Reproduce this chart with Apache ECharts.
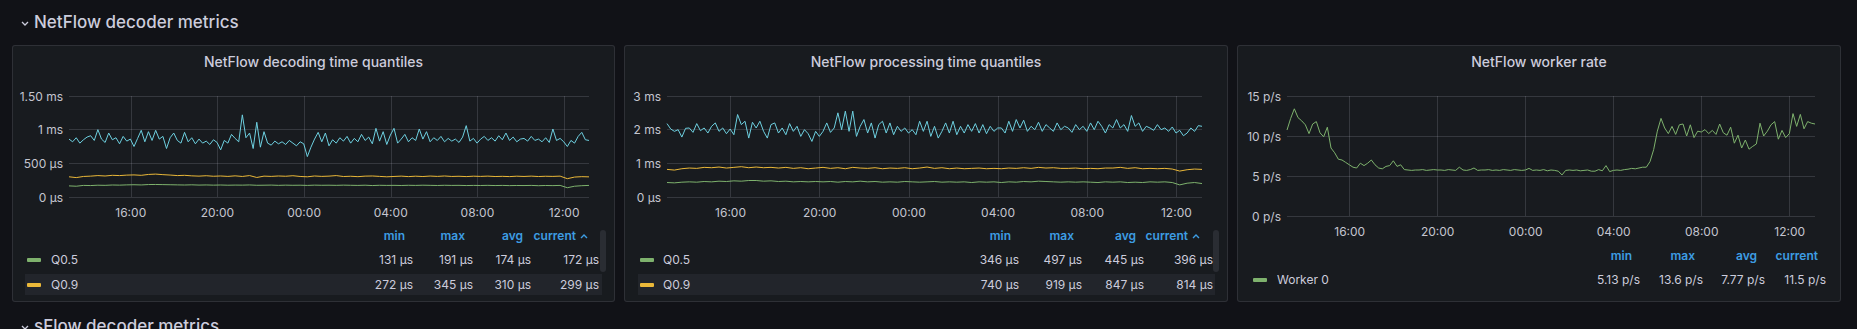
<!DOCTYPE html>
<html><head><meta charset="utf-8">
<script src="https://cdn.jsdelivr.net/npm/echarts@6/dist/echarts.min.js"></script>
<style>
html,body{margin:0;padding:0;background:#111217;width:1857px;height:329px;overflow:hidden;font-family:Inter,"Noto Sans",sans-serif;color:#ccccdc;}
.rowh{position:absolute;left:34px;font-size:17px;font-weight:500;line-height:20px;color:#ccccdc;white-space:nowrap;}
.chev{position:absolute;left:21px;}
.panel{position:absolute;top:45px;height:257px;background:#181b1f;border:1px solid rgba(204,204,220,0.12);border-radius:3px;box-sizing:border-box;}
.title{position:absolute;left:0;right:0;top:8px;text-align:center;font-size:14px;font-weight:500;line-height:16px;color:#ccccdc;}
.chart{position:absolute;top:0;height:257px;}
.lg{position:absolute;font-size:12px;line-height:14px;white-space:nowrap;color:#ccccdc;}
.hd{color:#3d9de3;font-weight:600;}
.band{position:absolute;background:#22252b;}
.sw{position:absolute;width:14px;height:4px;border-radius:1px;}
.thumb{position:absolute;width:6px;border-radius:3px;background:#2a2d33;}
</style></head>
<body>
<svg class="chev" style="top:21px" width="8" height="6" viewBox="0 0 8 6"><polyline points="1,1 4,4 7,1" fill="none" stroke="#ccccdc" stroke-width="1.3"/></svg>
<div class="rowh" style="top:12px">NetFlow decoder metrics</div>
<svg class="chev" style="top:325px" width="8" height="6" viewBox="0 0 8 6"><polyline points="1,1 4,4 7,1" fill="none" stroke="#ccccdc" stroke-width="1.3"/></svg>
<div class="rowh" style="top:316px">sFlow decoder metrics</div>

<div class="panel" style="left:12px;width:603px"><div class="title">NetFlow decoding time quantiles</div></div>
<div class="panel" style="left:624px;width:604px"><div class="title">NetFlow processing time quantiles</div></div>
<div class="panel" style="left:1237px;width:604px"><div class="title">NetFlow worker rate</div></div>

<div class="band" style="left:25px;top:274px;width:577px;height:21px"></div>
<div class="band" style="left:638px;top:274px;width:577px;height:21px"></div>
<div class="thumb" style="left:600px;top:230px;height:42px"></div>
<div class="thumb" style="left:1213px;top:230px;height:42px"></div>

<div id="c1" class="chart" style="left:12px;top:45px;width:603px"></div>
<div id="c2" class="chart" style="left:624px;top:45px;width:604px"></div>
<div id="c3" class="chart" style="left:1237px;top:45px;width:604px"></div>

<script>
// ---------- data ----------
const X_START = 13.15;          // 13:09 (hours)
const X_END = 37.15;            // 13:09 next day
const X_TICKS = [16, 20, 24, 28, 32, 36];
const STEP_FINE = 1/6;          // 10 min samples
const STEP_COARSE = 1/3;        // 20 min samples

const P1_Y_TICKS = [0, 0.5, 1, 1.5];
const P1_Y_LABELS = ['0 µs', '500 µs', '1 ms', '1.50 ms'];
const P2_Y_TICKS = [0, 1, 2, 3];
const P2_Y_LABELS = ['0 µs', '1 ms', '2 ms', '3 ms'];
const P3_Y_TICKS = [0, 5, 10, 15];
const P3_Y_LABELS = ['0 p/s', '5 p/s', '10 p/s', '15 p/s'];

// NetFlow decoding time (ms)
const P1_Q99 = [
 0.86,0.82,0.88,0.80,0.85,0.89, 0.91,0.84,1.00,0.86,0.81,0.95, 0.85,0.88,0.79,0.90,0.83,0.86,
 0.75,0.87,0.99,0.82,0.97,0.84, 0.99,0.86,0.90,0.72,0.88,0.95, 0.84,0.80,0.96,0.82,0.88,0.79,
 0.86,0.80,0.83,0.78,0.85,0.81, 0.70,0.84,0.80,0.93,0.87,0.82, 1.22,0.88,0.95,0.72,1.11,0.74,
 0.97,0.80,0.77,0.83,0.79,0.82, 0.78,0.84,0.80,0.76,0.82,0.79, 0.60,0.74,0.86,0.96,0.82,0.95,
 0.76,0.85,0.80,0.88,0.83,0.90, 0.80,0.87,0.82,0.93,0.84,0.89, 0.79,1.02,0.83,0.97,0.78,0.92,
 1.02,0.80,0.86,0.93,0.82,0.88, 0.84,1.01,0.86,0.97,0.82,0.88, 0.84,0.90,0.82,0.87,0.83,0.86,
 0.81,0.89,1.06,0.83,0.87,0.80, 0.86,0.90,0.84,0.88,0.83,0.91, 0.85,0.95,0.84,0.89,0.82,0.86,
 0.87,0.83,0.90,0.84,0.86,0.82, 0.88,0.81,1.01,0.84,0.87,0.82, 0.75,0.84,0.80,0.90,0.96,0.85,
 0.84];
const P1_Q50 = [
 0.165,0.160,0.172, 0.170,0.175,0.173, 0.178,0.176,0.180, 0.182,0.179,0.185, 0.186,0.184,0.182,
 0.180,0.178,0.181, 0.177,0.179,0.176, 0.178,0.175,0.177, 0.176,0.179,0.174, 0.175,0.177,0.173,
 0.176,0.174,0.175, 0.172,0.176,0.174, 0.175,0.173,0.176, 0.174,0.172,0.175, 0.170,0.174,0.172,
 0.173,0.171,0.174, 0.172,0.175,0.173, 0.171,0.174,0.172, 0.173,0.170,0.172, 0.171,0.173,0.170,
 0.172,0.169,0.171, 0.170,0.172,0.168, 0.171,0.169,0.172, 0.138,0.160,0.168, 0.172];
const P1_Q90 = [
 0.300,0.288,0.305, 0.310,0.318,0.312, 0.322,0.318,0.325, 0.328,0.322,0.335, 0.340,0.332,0.326,
 0.318,0.322,0.314, 0.310,0.316,0.308, 0.312,0.306,0.314, 0.305,0.318,0.290, 0.310,0.306,0.312,
 0.308,0.316,0.305, 0.300,0.312,0.306, 0.310,0.318,0.304, 0.308,0.302,0.310, 0.312,0.306,0.300,
 0.305,0.310,0.303, 0.309,0.304,0.311, 0.306,0.312,0.305, 0.308,0.303,0.309, 0.306,0.310,0.304,
 0.307,0.303,0.309, 0.305,0.310,0.304, 0.308,0.306,0.310, 0.272,0.296,0.302, 0.299];

// NetFlow processing time (ms)
const P2_Q99 = [
 2.18,2.02,1.95,2.00,1.78,2.04, 2.05,1.92,2.18,1.97,2.05,1.90, 2.10,2.20,1.95,2.05,1.88,2.02,
 1.85,2.45,2.15,2.25,1.75,2.22, 2.05,2.25,1.95,1.75,2.15,2.20, 1.90,2.05,1.85,2.18,1.95,2.10,
 1.80,2.00,1.88,1.65,1.95,1.80, 1.95,2.20,1.92,2.05,2.50,2.00, 2.55,1.95,2.55,1.80,2.10,2.30,
 1.90,2.20,1.75,2.15,2.25,1.90, 2.20,1.85,2.10,1.95,2.05,1.90, 2.00,1.85,2.25,1.95,2.25,1.80,
 2.10,1.75,1.95,2.20,1.90,2.25, 1.85,2.10,1.90,2.15,1.95,2.18, 1.90,2.15,1.88,2.10,1.95,2.05,
 2.05,1.90,2.25,1.95,2.30,2.05, 2.28,1.95,2.10,2.00,2.22,1.95, 2.15,2.05,1.95,2.20,2.00,2.10,
 2.05,1.92,2.15,2.00,2.10,1.95, 2.20,2.00,2.25,2.10,1.90,2.15, 2.05,2.30,2.05,2.15,1.95,2.42,
 2.10,2.20,1.95,2.10,2.05,1.98, 2.15,2.00,2.05,1.95,2.08,1.90, 1.98,1.82,1.90,2.05,1.95,2.12,
 2.10];
const P2_Q50 = [
 0.43,0.42,0.44, 0.45,0.44,0.46, 0.45,0.47,0.46, 0.48,0.47,0.49, 0.49,0.47,0.48, 0.46,0.47,0.45,
 0.46,0.45,0.46, 0.45,0.46,0.44, 0.46,0.45,0.47, 0.45,0.46,0.44, 0.45,0.44,0.46, 0.45,0.44,0.45,
 0.46,0.44,0.45, 0.44,0.45,0.43, 0.45,0.44,0.45, 0.43,0.45,0.44, 0.46,0.45,0.47, 0.46,0.45,0.44,
 0.45,0.44,0.45, 0.44,0.43,0.45, 0.44,0.45,0.43, 0.44,0.43,0.45, 0.44,0.45,0.43, 0.36,0.41,0.43,
 0.40];
const P2_Q90 = [
 0.82,0.80,0.84, 0.86,0.85,0.88, 0.87,0.89,0.86, 0.88,0.90,0.87, 0.89,0.87,0.88, 0.86,0.88,0.85,
 0.87,0.84,0.86, 0.88,0.85,0.87, 0.84,0.88,0.86, 0.85,0.87,0.84, 0.86,0.85,0.87, 0.84,0.86,0.89,
 0.85,0.87,0.84, 0.86,0.84,0.85, 0.86,0.84,0.85, 0.84,0.86,0.85, 0.87,0.85,0.88, 0.86,0.87,0.85,
 0.85,0.86,0.84, 0.85,0.84,0.86, 0.86,0.88,0.85, 0.87,0.84,0.85, 0.84,0.85,0.83, 0.77,0.81,0.83,
 0.82];

// NetFlow worker rate (p/s)
const P3_WORKER0 = [
 10.75,12.2,13.4,12.3,11.9,11.4, 10.3,11.5,11.8,10.4,9.9,11.1, 8.5,7.9,7.1,7.0,6.7,6.4,
 6.1,6.0,6.6,6.3,6.6,7.0, 6.4,6.0,5.9,6.2,6.3,6.9, 6.2,6.4,5.8,5.75,5.7,5.75,
 5.75,5.8,5.7,5.75,5.8,5.75, 5.75,5.7,5.8,5.75,5.7,6.1, 5.75,5.7,5.8,6.0,5.7,5.75,
 5.75,5.8,5.7,5.75,5.7,5.8, 5.75,5.7,5.8,5.75,5.7,5.75, 5.95,5.7,5.75,5.7,5.8,5.65,
 5.75,5.7,5.6,5.13,5.7,5.75, 5.7,5.75,5.65,5.7,5.75,5.6, 5.6,5.8,5.65,6.3,5.55,5.7,
 5.75,5.7,5.8,5.85,5.95,5.9, 6.0,6.1,6.1,6.8,8.3,10.6, 12.2,11.0,10.3,11.2,10.2,11.4,
 11.5,10.0,11.4,9.8,10.6,10.5, 10.8,10.3,10.7,10.2,11.5,10.4, 10.1,11.1,9.1,10.1,8.5,9.5,
 8.35,8.7,9.0,11.6,10.0,10.6, 11.4,11.8,9.6,10.7,9.8,10.3, 12.8,11.2,12.7,10.9,11.8,11.6,
 11.5];

// legends
const LEGEND_HEADERS = ['min', 'max', 'avg', 'current'];
const P1_LEGEND_NAMES = ['Q0.5', 'Q0.9'];
const P1_LEGEND_VALUES = [['131 µs','191 µs','174 µs','172 µs'], ['272 µs','345 µs','310 µs','299 µs']];
const P2_LEGEND_NAMES = ['Q0.5', 'Q0.9'];
const P2_LEGEND_VALUES = [['346 µs','497 µs','445 µs','396 µs'], ['740 µs','919 µs','847 µs','814 µs']];
const P3_LEGEND_NAMES = ['Worker 0'];
const P3_LEGEND_VALUES = [['5.13 p/s','13.6 p/s','7.77 p/s','11.5 p/s']];

const GREEN = '#7EB26D', YELLOW = '#EAB839', CYAN = '#6ED0E0';
const GRIDC = 'rgba(204,204,220,0.17)';
const TICKC = '#c4c5cf';

// ---------- charts ----------
function pts(vals, step) { return vals.map((v, i) => [X_START + i * step, v]); }
function pad(n) { return (n < 10 ? '0' : '') + n; }

function option(grid, yTicks, yLabels, series) {
  return {
    animation: false,
    grid: Object.assign({ containLabel: false }, grid),
    xAxis: {
      type: 'value', min: X_START, max: X_END,
      axisLine: { show: false },
      axisTick: { show: false, customValues: X_TICKS },
      axisLabel: { customValues: X_TICKS, color: TICKC, fontSize: 12, fontFamily: 'Inter', margin: 9,
                   formatter: v => pad(Math.round(v) % 24) + ':00' },
      splitLine: { show: true, lineStyle: { color: GRIDC, width: 1 } }
    },
    yAxis: {
      type: 'value', min: yTicks[0], max: yTicks[yTicks.length - 1],
      interval: yTicks[1] - yTicks[0],
      axisLine: { show: false }, axisTick: { show: false },
      axisLabel: { color: TICKC, fontSize: 12, fontFamily: 'Inter', margin: 6,
                   formatter: v => { const i = yTicks.findIndex(t => Math.abs(t - v) < 1e-9); return i >= 0 ? yLabels[i] : ''; } },
      splitLine: { show: true, lineStyle: { color: GRIDC, width: 1 } }
    },
    series: series.map(s => ({
      type: 'line', name: s.name, data: s.data, showSymbol: false, symbol: 'none',
      lineStyle: { color: s.color, width: 1 }, itemStyle: { color: s.color }, z: s.z || 2
    }))
  };
}

const c1 = echarts.init(document.getElementById('c1'), null, { renderer: 'svg' });
c1.setOption(option({ left: 57, right: 26, top: 51, bottom: 105 }, P1_Y_TICKS, P1_Y_LABELS, [
  { name: 'Q0.5', data: pts(P1_Q50, STEP_COARSE), color: GREEN },
  { name: 'Q0.9', data: pts(P1_Q90, STEP_COARSE), color: YELLOW },
  { name: 'Q0.99', data: pts(P1_Q99, STEP_FINE), color: CYAN }
]));
const c2 = echarts.init(document.getElementById('c2'), null, { renderer: 'svg' });
c2.setOption(option({ left: 43, right: 26, top: 51, bottom: 105 }, P2_Y_TICKS, P2_Y_LABELS, [
  { name: 'Q0.5', data: pts(P2_Q50, STEP_COARSE), color: GREEN },
  { name: 'Q0.9', data: pts(P2_Q90, STEP_COARSE), color: YELLOW },
  { name: 'Q0.99', data: pts(P2_Q99, STEP_FINE), color: CYAN }
]));
const c3 = echarts.init(document.getElementById('c3'), null, { renderer: 'svg' });
c3.setOption(option({ left: 50, right: 26, top: 51, bottom: 86 }, P3_Y_TICKS, P3_Y_LABELS, [
  { name: 'Worker 0', data: pts(P3_WORKER0, STEP_FINE), color: GREEN }
]));

// ---------- legends ----------
const W = 1857;
function put(text, x, yc, align, cls, extra) {
  const d = document.createElement('div');
  d.className = 'lg' + (cls ? ' ' + cls : '');
  d.textContent = text;
  d.style.top = (yc - 7) + 'px';
  if (align === 'right') d.style.right = (W - x) + 'px'; else d.style.left = x + 'px';
  if (extra) d.appendChild(extra);
  document.body.appendChild(d);
  return d;
}
function arrowUp() {
  const s = document.createElementNS('http://www.w3.org/2000/svg', 'svg');
  s.setAttribute('width', '10'); s.setAttribute('height', '8');
  s.setAttribute('viewBox', '0 0 10 8');
  s.style.marginLeft = '3px'; s.style.verticalAlign = '0px';
  s.innerHTML = '<polyline points="2,6 5,3 8,6" fill="none" stroke="#3d9de3" stroke-width="1.4"/>';
  return s;
}
function legend(cfg) {
  cfg.headerRights.forEach((x, i) => {
    put(LEGEND_HEADERS[i], x, cfg.headerY, 'right', 'hd', (cfg.arrow && i === 3) ? arrowUp() : null);
  });
  cfg.names.forEach((n, r) => {
    const y = cfg.rowYs[r];
    const sw = document.createElement('div');
    sw.className = 'sw'; sw.style.left = cfg.swX + 'px'; sw.style.top = (y - 2) + 'px';
    sw.style.background = cfg.colors[r];
    document.body.appendChild(sw);
    put(n, cfg.labelX, y, 'left');
    cfg.values[r].forEach((v, k) => put(v, cfg.valueRights[k], y, 'right'));
  });
}
legend({ names: P1_LEGEND_NAMES, values: P1_LEGEND_VALUES, colors: [GREEN, YELLOW], arrow: true,
  headerY: 236, rowYs: [260, 285], swX: 27, labelX: 51,
  headerRights: [405, 465, 523, 589], valueRights: [413, 473, 531, 599] });
legend({ names: P2_LEGEND_NAMES, values: P2_LEGEND_VALUES, colors: [GREEN, YELLOW], arrow: true,
  headerY: 236, rowYs: [260, 285], swX: 640, labelX: 663,
  headerRights: [1011, 1074, 1136, 1201], valueRights: [1019, 1082, 1144, 1213] });
legend({ names: P3_LEGEND_NAMES, values: P3_LEGEND_VALUES, colors: [GREEN], arrow: false,
  headerY: 256, rowYs: [280], swX: 1253, labelX: 1277,
  headerRights: [1632, 1695, 1757, 1818], valueRights: [1640, 1703, 1765, 1826] });
</script>
</body></html>
